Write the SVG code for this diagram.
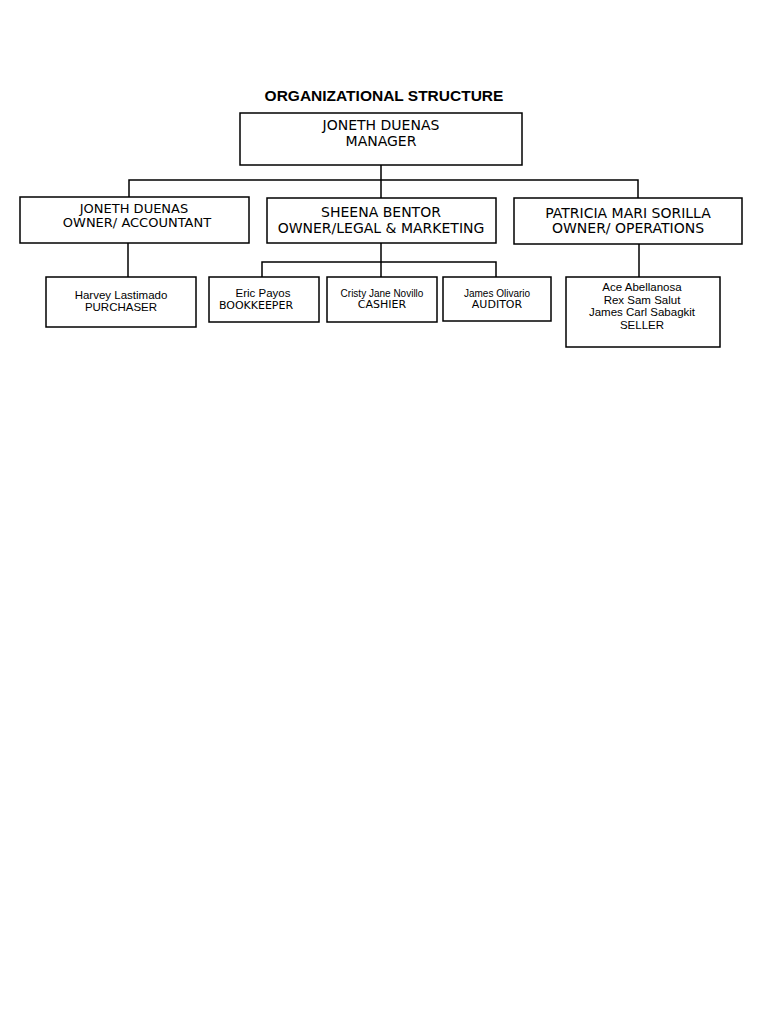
<svg xmlns="http://www.w3.org/2000/svg" width="768" height="1024" viewBox="0 0 768 1024">
<style>
.box{fill:#fff;stroke:#000;stroke-width:1.5}
.ln{fill:none;stroke:#000;stroke-width:1.5}
.t{font-family:"DejaVu Sans",sans-serif;font-size:14px;text-anchor:middle;fill:#000}
.t2{font-family:"DejaVu Sans",sans-serif;font-size:13px;text-anchor:middle;fill:#000}
.n{font-family:"Liberation Sans",Arial,sans-serif;font-size:11.5px;text-anchor:middle;fill:#000}
.s{font-family:"Liberation Sans",Arial,sans-serif;font-size:10px;text-anchor:middle;fill:#000}
.r{font-family:"DejaVu Sans",sans-serif;font-size:11px;text-anchor:middle;fill:#000}
</style>
<rect width="768" height="1024" fill="#fff"/>
<text x="384" y="101" font-family="Liberation Sans,Arial,sans-serif" font-size="15.5" font-weight="bold" text-anchor="middle">ORGANIZATIONAL STRUCTURE</text>
<g id="connectors">
<path class="ln" d="M381 165V180M129 198V180H638V198M381 180V198"/>
<path class="ln" d="M128 243V277"/>
<path class="ln" d="M381 243V262M262 277V262H496V277M381 262V277"/>
<path class="ln" d="M639 244V277"/>
</g>
<g id="manager"><rect class="box" x="240" y="113" width="282" height="52"/><text class="t" x="381" y="130">JONETH DUENAS</text><text class="t" x="381" y="146">MANAGER</text></g>
<g id="accountant"><rect class="box" x="20" y="197" width="229" height="46"/><text class="t2" x="134" y="213">JONETH DUENAS</text><text class="t2" x="137" y="227">OWNER/ ACCOUNTANT</text></g>
<g id="legal"><rect class="box" x="267" y="198" width="229" height="45"/><text class="t" x="381" y="217">SHEENA BENTOR</text><text class="t" x="381" y="233">OWNER/LEGAL &amp; MARKETING</text></g>
<g id="operations"><rect class="box" x="514" y="198" width="228" height="46"/><text class="t" x="628" y="218">PATRICIA MARI SORILLA</text><text class="t" x="628" y="233">OWNER/ OPERATIONS</text></g>
<g id="purchaser"><rect class="box" x="46" y="277" width="150" height="50"/><text class="n" x="121" y="299">Harvey Lastimado</text><text class="n" x="121" y="311">PURCHASER</text></g>
<g id="bookkeeper"><rect class="box" x="209" y="277" width="110" height="45"/><text class="n" x="263" y="297">Eric Payos</text><text class="r" x="256" y="309">BOOKKEEPER</text></g>
<g id="cashier"><rect class="box" x="327" y="277" width="110" height="45"/><text class="s" x="382" y="297">Cristy Jane Novillo</text><text class="r" x="382" y="308">CASHIER</text></g>
<g id="auditor"><rect class="box" x="443" y="277" width="108" height="44"/><text class="s" x="497" y="297">James Olivario</text><text class="r" x="497" y="308">AUDITOR</text></g>
<g id="seller"><rect class="box" x="566" y="277" width="154" height="70"/><text class="n" x="642" y="291">Ace Abellanosa</text><text class="n" x="642" y="304">Rex Sam Salut</text><text class="n" x="642" y="316">James Carl Sabagkit</text><text class="n" x="642" y="329">SELLER</text></g>
</svg>
